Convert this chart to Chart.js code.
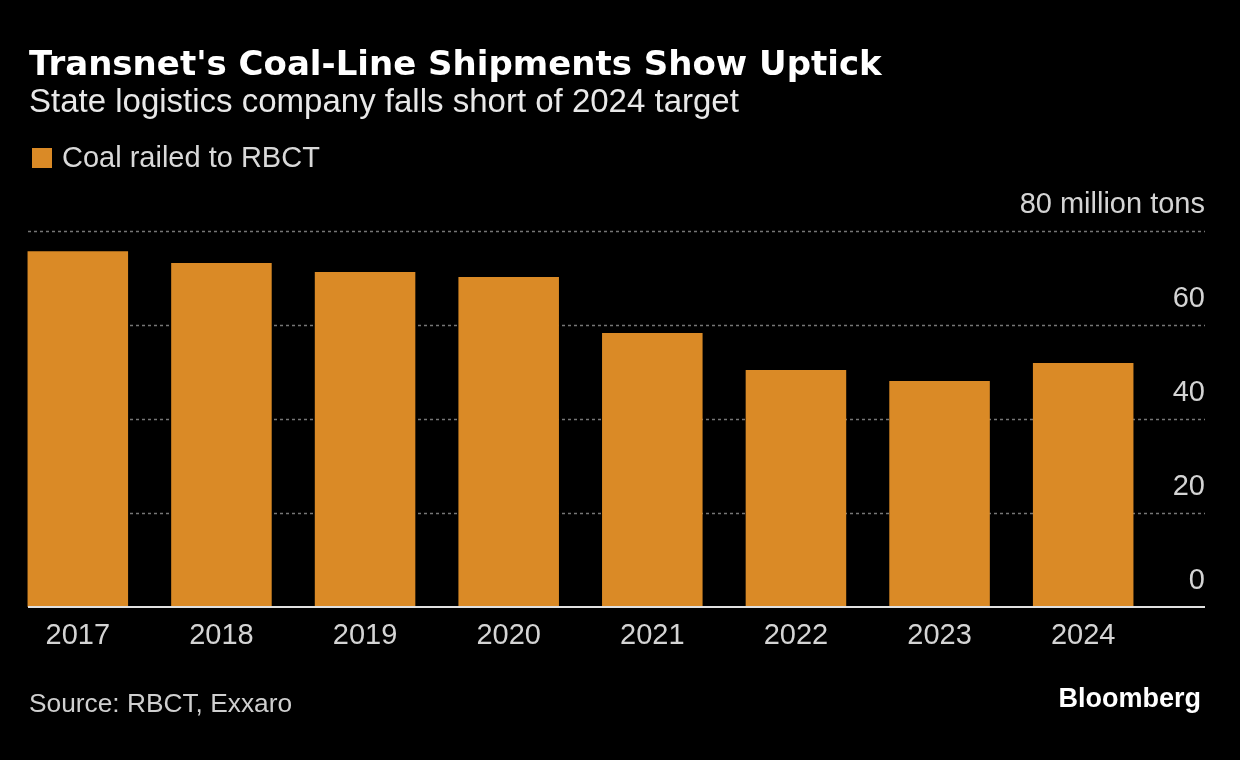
<!DOCTYPE html>
<html>
<head>
<meta charset="utf-8">
<script src="https://cdn.jsdelivr.net/npm/chart.js@4"></script>
<style>
  html, body { margin: 0; padding: 0; background: #000; }
  body { width: 1240px; height: 760px; position: relative; overflow: hidden; font-family: "Liberation Sans", Arial, sans-serif; }
  #wrap { position: absolute; left: 0; top: 0; width: 1240px; height: 760px; }
  .t { position: absolute; white-space: nowrap; line-height: 1; }
  #title { left: 29px; top: 46px; font-family: "DejaVu Sans", sans-serif; font-weight: bold; font-size: 34px; color: #fff; }
  #subtitle { left: 29px; top: 84px; font-size: 33px; color: #e8e8e8; }
  #legend { left: 32px; top: 143px; font-size: 29px; color: #d9d9d9; }
  #legend .sw { display: inline-block; width: 20px; height: 20px; background: #da8a26; margin-right: 10px; vertical-align: -1px; }
  #source { left: 29px; top: 690px; font-size: 26.3px; color: #cfcfcf; }
  #logo { right: 39px; top: 685px; font-size: 27px; font-weight: bold; color: #fff; }
</style>
</head>
<body>
<div id="wrap"><canvas id="c" width="1240" height="760"></canvas></div>
<div class="t" id="title">Transnet's Coal-Line Shipments Show Uptick</div>
<div class="t" id="subtitle">State logistics company falls short of 2024 target</div>
<div class="t" id="legend"><span class="sw"></span>Coal railed to RBCT</div>
<div class="t" id="source">Source: RBCT, Exxaro</div>
<div class="t" id="logo">Bloomberg</div>
<script>
const years = ['2017', '2018', '2019', '2020', '2021', '2022', '2023', '2024'];
const coalRailed = [75.7, 73.2, 71.3, 70.2, 58.3, 50.4, 48.1, 51.9];
const yTickValues = [0, 20, 40, 60, 80];
const yTickLabels = ['0', '20', '40', '60', '80 million tons'];

const GRID_LEFT = 28, GRID_RIGHT = 1205;

const gridPlugin = {
  id: 'bbgGrid',
  beforeDatasetsDraw(chart) {
    const y = chart.scales.y, ctx = chart.ctx;
    ctx.save();
    ctx.strokeStyle = '#767676';
    ctx.lineWidth = 1.5;
    ctx.setLineDash([3, 3]);
    yTickValues.forEach(v => {
      if (v === 0) return;
      const py = Math.round(y.getPixelForValue(v)) + 0.5;
      ctx.beginPath();
      ctx.moveTo(GRID_LEFT, py);
      ctx.lineTo(GRID_RIGHT, py);
      ctx.stroke();
    });
    ctx.restore();
  },
  afterDatasetsDraw(chart) {
    const y = chart.scales.y, ctx = chart.ctx;
    ctx.save();
    ctx.strokeStyle = '#e0e0e0';
    ctx.lineWidth = 2;
    const py = y.getPixelForValue(0);
    ctx.beginPath();
    ctx.moveTo(GRID_LEFT, py);
    ctx.lineTo(GRID_RIGHT, py);
    ctx.stroke();
    ctx.restore();
  }
};

new Chart(document.getElementById('c'), {
  type: 'bar',
  data: {
    labels: years,
    datasets: [{
      label: 'Coal railed to RBCT',
      data: coalRailed,
      backgroundColor: '#da8a26',
      borderWidth: 0,
      categoryPercentage: 1,
      barPercentage: 0.7
    }]
  },
  options: {
    responsive: false,
    animation: false,
    events: [],
    layout: { padding: { left: 6, right: 85, top: 231, bottom: 93 } },
    plugins: { legend: { display: false }, tooltip: { enabled: false }, title: { display: false } },
    scales: {
      x: {
        grid: { display: false, drawTicks: false, tickLength: 0 },
        border: { display: false },
        ticks: { color: '#d4d4d4', font: { family: '"Liberation Sans", Arial, sans-serif', size: 29 }, padding: 12, maxRotation: 0, autoSkip: false },
        afterFit(s) { s.height = 60; }
      },
      y: {
        position: 'right',
        min: 0, max: 80,
        afterBuildTicks(s) { s.ticks = yTickValues.map(v => ({ value: v })); },
        grid: { display: false, drawTicks: false, tickLength: 0 },
        border: { display: false },
        ticks: {
          mirror: true,
          autoSkip: false,
          padding: 50,
          labelOffset: -26,
          color: '#d4d4d4',
          font: { family: '"Liberation Sans", Arial, sans-serif', size: 29 },
          callback(value) { const i = yTickValues.indexOf(value); return i >= 0 ? yTickLabels[i] : ''; }
        },
        afterFit(s) { s.width = 0; }
      }
    }
  },
  plugins: [gridPlugin]
});
</script>
</body>
</html>
